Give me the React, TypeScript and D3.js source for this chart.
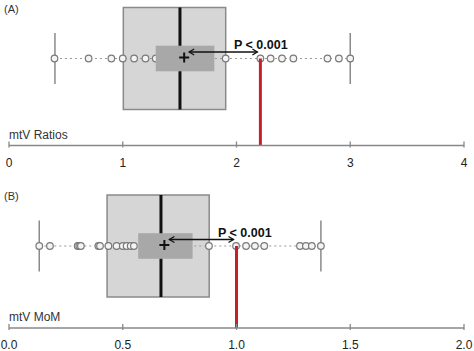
import * as d3 from 'd3'

const W = 474
const H = 351

// Panel A: mtV ratios
const ratioTicks = [0, 1, 2, 3, 4]
const ratioPoints = [0.4, 0.7, 0.9, 1.0, 1.1, 1.2, 1.29, 1.905, 2.21, 2.3, 2.4, 2.5, 2.8, 2.9, 3.0]
const ratioBox = [1.005, 1.503, 1.905] // q1, median, q3
const ratioWhiskers = [0.404, 3.0]
const ratioInner = [1.29, 1.805]
const ratioMean = 1.54
const ratioRef = 2.21

// Panel B: mtV MoM
const momTicks = [0, 0.5, 1.0, 1.5, 2.0]
const momPoints = [
  0.133, 0.18, 0.302, 0.309, 0.316, 0.393, 0.4, 0.437, 0.473, 0.5, 0.517, 0.535, 0.549,
  0.879, 0.998, 1.042, 1.081, 1.122, 1.279, 1.305, 1.331, 1.371
]
const momBox = [0.431, 0.668, 0.88]
const momWhiskers = [0.133, 1.371]
const momInner = [0.568, 0.807]
const momMean = 0.683
const momRef = 1.0

const FONT = 'Liberation Sans, Arial, sans-serif'

interface PanelProps {
  tag: string
  title: string
  domain: [number, number]
  ticks: number[]
  tickFmt: (d: number) => string
  points: number[]
  box: number[]
  whiskers: number[]
  inner: number[]
  mean: number
  refValue: number
  top: number
  axisY: number
  pLabelX: number
}

function Panel(p: PanelProps) {
  const x = d3.scaleLinear().domain(p.domain).range([9, 464])
  const boxTop = p.top
  const boxBot = p.top + 102
  const cy = p.top + 51
  const arrowY = cy - 6.5
  const ax1 = x(p.mean) + 5
  const ax2 = x(p.refValue) - 3
  return (
    <g>
      <text x={4} y={p.top + 5} fontSize={11} fill="#333" fontFamily={FONT}>{p.tag}</text>
      {/* outer box */}
      <rect x={x(p.box[0])} y={boxTop} width={x(p.box[2]) - x(p.box[0])} height={boxBot - boxTop}
        fill="#d6d6d6" stroke="#8a8a8a" strokeWidth={1.5} />
      {/* dotted line and whiskers */}
      <line x1={x(p.whiskers[0])} x2={x(p.whiskers[1])} y1={cy} y2={cy} stroke="#999" strokeWidth={1.2} strokeDasharray="2,3" />
      {p.whiskers.map((w, i) => (
        <line key={i} x1={x(w)} x2={x(w)} y1={cy - 25.5} y2={cy + 25.5} stroke="#8a8a8a" strokeWidth={1.5} />
      ))}
      {p.points.map((v, i) => (
        <circle key={i} cx={x(v)} cy={cy} r={3.3} fill="#f4f4f4" stroke="#7a7a7a" strokeWidth={1.2} />
      ))}
      {/* median */}
      <line x1={x(p.box[1])} x2={x(p.box[1])} y1={boxTop} y2={boxBot} stroke="#111" strokeWidth={3} />
      {/* inner box */}
      <rect x={x(p.inner[0])} y={cy - 12.8} width={x(p.inner[1]) - x(p.inner[0])} height={25.6} fill="#a8a8a8" />
      {/* mean marker */}
      <line x1={x(p.mean) - 5} x2={x(p.mean) + 5} y1={cy - 1} y2={cy - 1} stroke="#111" strokeWidth={2} />
      <line x1={x(p.mean)} x2={x(p.mean)} y1={cy - 6} y2={cy + 4} stroke="#111" strokeWidth={2} />
      {/* arrow */}
      <line x1={ax1} x2={ax2} y1={arrowY} y2={arrowY} stroke="#111" strokeWidth={1.3} />
      <polyline points={`${ax1 + 5},${arrowY - 3} ${ax1},${arrowY} ${ax1 + 5},${arrowY + 3}`} fill="none" stroke="#111" strokeWidth={1.3} />
      <polyline points={`${ax2 - 5},${arrowY - 3} ${ax2},${arrowY} ${ax2 - 5},${arrowY + 3}`} fill="none" stroke="#111" strokeWidth={1.3} />
      <text x={p.pLabelX} y={arrowY - 3} fontSize={12.5} fontWeight="bold" fill="#111" fontFamily={FONT}>P &lt; 0.001</text>
      {/* reference line */}
      <line x1={x(p.refValue)} x2={x(p.refValue)} y1={cy} y2={p.axisY} stroke="#c8202a" strokeWidth={3} />
      {/* axis */}
      <text x={9} y={p.axisY - 7} fontSize={12} fill="#333" fontFamily={FONT}>{p.title}</text>
      <line x1={x(p.domain[0])} x2={x(p.domain[1])} y1={p.axisY} y2={p.axisY} stroke="#888" strokeWidth={1.3} />
      {p.ticks.map((t, i) => (
        <g key={i}>
          <line x1={x(t)} x2={x(t)} y1={p.axisY - 4} y2={p.axisY + 2} stroke="#888" strokeWidth={1.3} />
          <text x={x(t)} y={p.axisY + 21} textAnchor="middle" fontSize={12} fill="#222" fontFamily={FONT}>{p.tickFmt(t)}</text>
        </g>
      ))}
    </g>
  )
}

export default function App() {
  return (
    <svg width={W} height={H} style={{ position: 'absolute', left: 0, top: 0, background: '#fff' }}>
      <Panel tag="(A)" title="mtV Ratios" domain={[0, 4]} ticks={ratioTicks} tickFmt={d3.format('d')}
        points={ratioPoints} box={ratioBox} whiskers={ratioWhiskers} inner={ratioInner}
        mean={ratioMean} refValue={ratioRef} top={7.5} axisY={145.5} pLabelX={234} />
      <Panel tag="(B)" title="mtV MoM" domain={[0, 2]} ticks={momTicks} tickFmt={d3.format('.1f')}
        points={momPoints} box={momBox} whiskers={momWhiskers} inner={momInner}
        mean={momMean} refValue={momRef} top={195} axisY={328} pLabelX={218} />
    </svg>
  )
}
